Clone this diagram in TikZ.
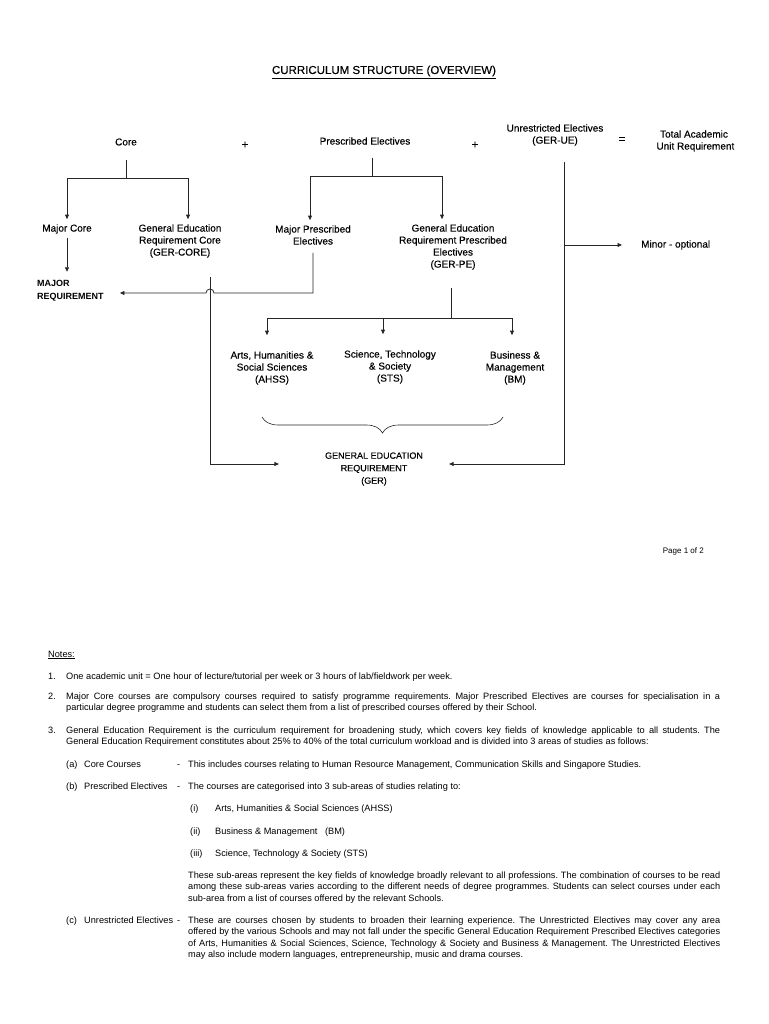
\documentclass[tikz,border=0pt]{standalone}
\usepackage{fontspec}
\setmainfont{Liberation Sans}
\newfontfamily\diagfont[FakeBold=0.3]{Liberation Sans}
\newfontfamily\notefont{Liberation Sans}
\usetikzlibrary{positioning, arrows.meta, decorations.pathreplacing}
\hbadness=10000
\hfuzz=20pt
\tolerance=10000
\frenchspacing

\begin{document}
\begin{tikzpicture}[
  x=1pt, y=-1pt,
  every node/.style={align=center, inner sep=1pt, font=\diagfont\fontsize{10}{12}\selectfont},
  caps/.style={font=\diagfont\fontsize{9}{12.5}\selectfont},
  line/.style={draw=black!85, line width=0.8pt},
  arr/.style={line, shorten >=4pt, -{Triangle[length=4.5pt, width=4pt]}},
  note/.style={anchor=base west, inner sep=0pt, font=\notefont\fontsize{9.2}{11.5}\selectfont},
  para/.style={note, align=justify, text width=#1}
]
\useasboundingbox (0,0) rectangle (768,1024);

% Title
\node (title) at (384,72) {\fontsize{11.5}{14}\selectfont\underline{CURRICULUM STRUCTURE (OVERVIEW)}};

% Top row
\node (core) at (126,142) {Core};
\node (plusa) at (245,145) {\fontsize{12}{12}\selectfont +};
\node (presc) at (365,141) {Prescribed Electives};
\node (plusb) at (475,145) {\fontsize{12}{12}\selectfont +};
\node (ue) at (555,135) {Unrestricted Electives\\(GER-UE)};
\node (eq) at (622,140) {\fontsize{12}{12}\selectfont =};
\node (total) at (694,141) {Total Academic\\\ Unit Requirement};

% Second row
\node (majcore) at (67,229) {Major Core};
\node (gercore) at (180,241) {General Education\\Requirement Core\\(GER-CORE)};
\node (majpe) at (313,235) {Major Prescribed\\Electives};
\node (gerpe) at (453,247) {General Education\\Requirement Prescribed\\Electives\\(GER-PE)};
\node[anchor=west] (minor) at (640,245) {Minor - optional};
\node[anchor=west, align=left, font=\rmfamily\bfseries\fontsize{9}{13}\selectfont] (majreq) at (36,290.5) {MAJOR\\REQUIREMENT};

% Sub-areas
\node (ahss) at (272,368) {Arts, Humanities \&\\Social Sciences\\(AHSS)};
\node (sts) at (390,367) {Science, Technology\\\& Society\\(STS)};
\node (bm) at (515,368) {Business \&\\Management\\(BM)};
\node[caps] (ger) at (374,469) {GENERAL EDUCATION\\REQUIREMENT\\(GER)};

% Core split
\draw[line, shorten <=13pt] (core.south) -- (core.south |- 0,178) coordinate (corefork);
\draw[arr] (corefork) -| (majcore.north);
\draw[arr] (corefork) -| ([xshift=8pt]gercore.north);
\draw[arr, shorten <=3pt, shorten >=7pt] (majcore.south) -- (majcore.south |- majreq.north);

% Prescribed split
\coordinate (prescdrop) at ([xshift=7pt]presc.south);
\draw[line, shorten <=12pt] (prescdrop) -- (prescdrop |- 0,176) coordinate (prescfork);
\draw[arr] (prescfork) -| ([xshift=-3pt]majpe.north);
\draw[arr] (prescfork) -| ([xshift=-11pt]gerpe.north);

% GER-CORE down to GER, major prescribed hops over it
\coordinate (gcdrop) at ([xshift=30pt]gercore.south);
\draw[arr, shorten <=18pt, shorten >=45pt] (gcdrop) |- ([yshift=5pt]ger.west);
\draw[arr, shorten <=7pt, shorten >=15pt] (majpe.south) |- ([xshift=4pt]gcdrop |- 0,293)
  arc[start angle=0, end angle=180, radius=4pt] -- (majreq.east |- 0,293);

% GER-PE split into sub-areas
\coordinate (gerpedrop) at ([xshift=-2pt]gerpe.south);
\draw[line, shorten <=17pt] (gerpedrop) -- (gerpedrop |- 0,318) coordinate (gerpefork);
\foreach \n/\dx in {ahss/-5, sts/-7, bm/-3}
  \draw[arr, shorten >=15pt] (gerpefork) -| ([xshift=\dx pt]\n.north);

% Brace under sub-areas
\coordinate (bracel) at (262,417);
\coordinate (bracer) at (503,417);
\draw[line, line width=0.6pt, decorate, decoration={brace, mirror, amplitude=16pt}] (bracel) -- (bracer);

% Unrestricted electives
\coordinate (uedrop) at ([xshift=9pt]ue.south);
\draw[arr, shorten <=15pt, shorten >=25pt] (uedrop) |- ([yshift=5pt]ger.east);
\draw[arr, shorten >=18pt] (uedrop |- minor.west) -- (minor.west);

% Page number
\node[anchor=east, font=\rmfamily\fontsize{8}{10}\selectfont] (page) at (705,551) {Page 1 of 2};

% Notes
\node[note] (notes) at (48,657) {\underline{Notes:}};
\node[note] (numa) at (48,679) {1.};
\node[note] (itema) at (66,679) {One academic unit = One hour of lecture/tutorial per week or 3 hours of lab/fieldwork per week.};
\node[note] (numb) at (48,699) {2.};
\node[para=654pt] (itemb) at (66,699) {Major Core courses are compulsory courses required to satisfy programme requirements. Major Prescribed Electives are courses for specialisation in a\linebreak particular degree programme and students can select them from a list of prescribed courses offered by their School.};
\node[note] (numc) at (48,733) {3.};
\node[para=654pt] (itemc) at (66,733) {General Education Requirement is the curriculum requirement for broadening study, which covers key fields of knowledge applicable to all students. The\linebreak General Education Requirement constitutes about 25\% to 40\% of the total curriculum workload and is divided into 3 areas of studies as follows:};

\node[note] (suba) at (66,767) {(a)};
\node[note] (subaname) at (84,767) {Core Courses};
\node[note] (subadash) at (177,767) {-};
\node[note] (subatext) at (188,767) {This includes courses relating to Human Resource Management, Communication Skills and Singapore Studies.};

\node[note] (subb) at (66,789) {(b)};
\node[note] (subbname) at (84,789) {Prescribed Electives};
\node[note] (subbdash) at (177,789) {-};
\node[note] (subbtext) at (188,789) {The courses are categorised into 3 sub-areas of studies relating to:};
\node[note] (romi) at (190,811) {(i)};
\node[note] (romitext) at (215,811) {Arts, Humanities \& Social Sciences (AHSS)};
\node[note] (romii) at (190,834) {(ii)};
\node[note] (romiitext) at (215,834) {Business \& Management\ \ \ (BM)};
\node[note] (romiii) at (190,856) {(iii)};
\node[note] (romiiitext) at (215,856) {Science, Technology \& Society (STS)};
\node[para=532pt] (subbpara) at (188,878) {These sub-areas represent the key fields of knowledge broadly relevant to all professions. The combination of courses to be read\linebreak among these sub-areas varies according to the different needs of degree programmes. Students can select courses under each\linebreak sub-area from a list of courses offered by the relevant Schools.};

\node[note] (subc) at (66,923) {(c)};
\node[note] (subcname) at (84,923) {Unrestricted Electives};
\node[note] (subcdash) at (177,923) {-};
\node[para=532pt] (subctext) at (188,923) {These are courses chosen by students to broaden their learning experience. The Unrestricted Electives may cover any area\linebreak offered by the various Schools and may not fall under the specific General Education Requirement Prescribed Electives categories\linebreak of Arts, Humanities \& Social Sciences, Science, Technology \& Society and Business \& Management. The Unrestricted Electives\linebreak may also include modern languages, entrepreneurship, music and drama courses.};

\end{tikzpicture}
\end{document}
